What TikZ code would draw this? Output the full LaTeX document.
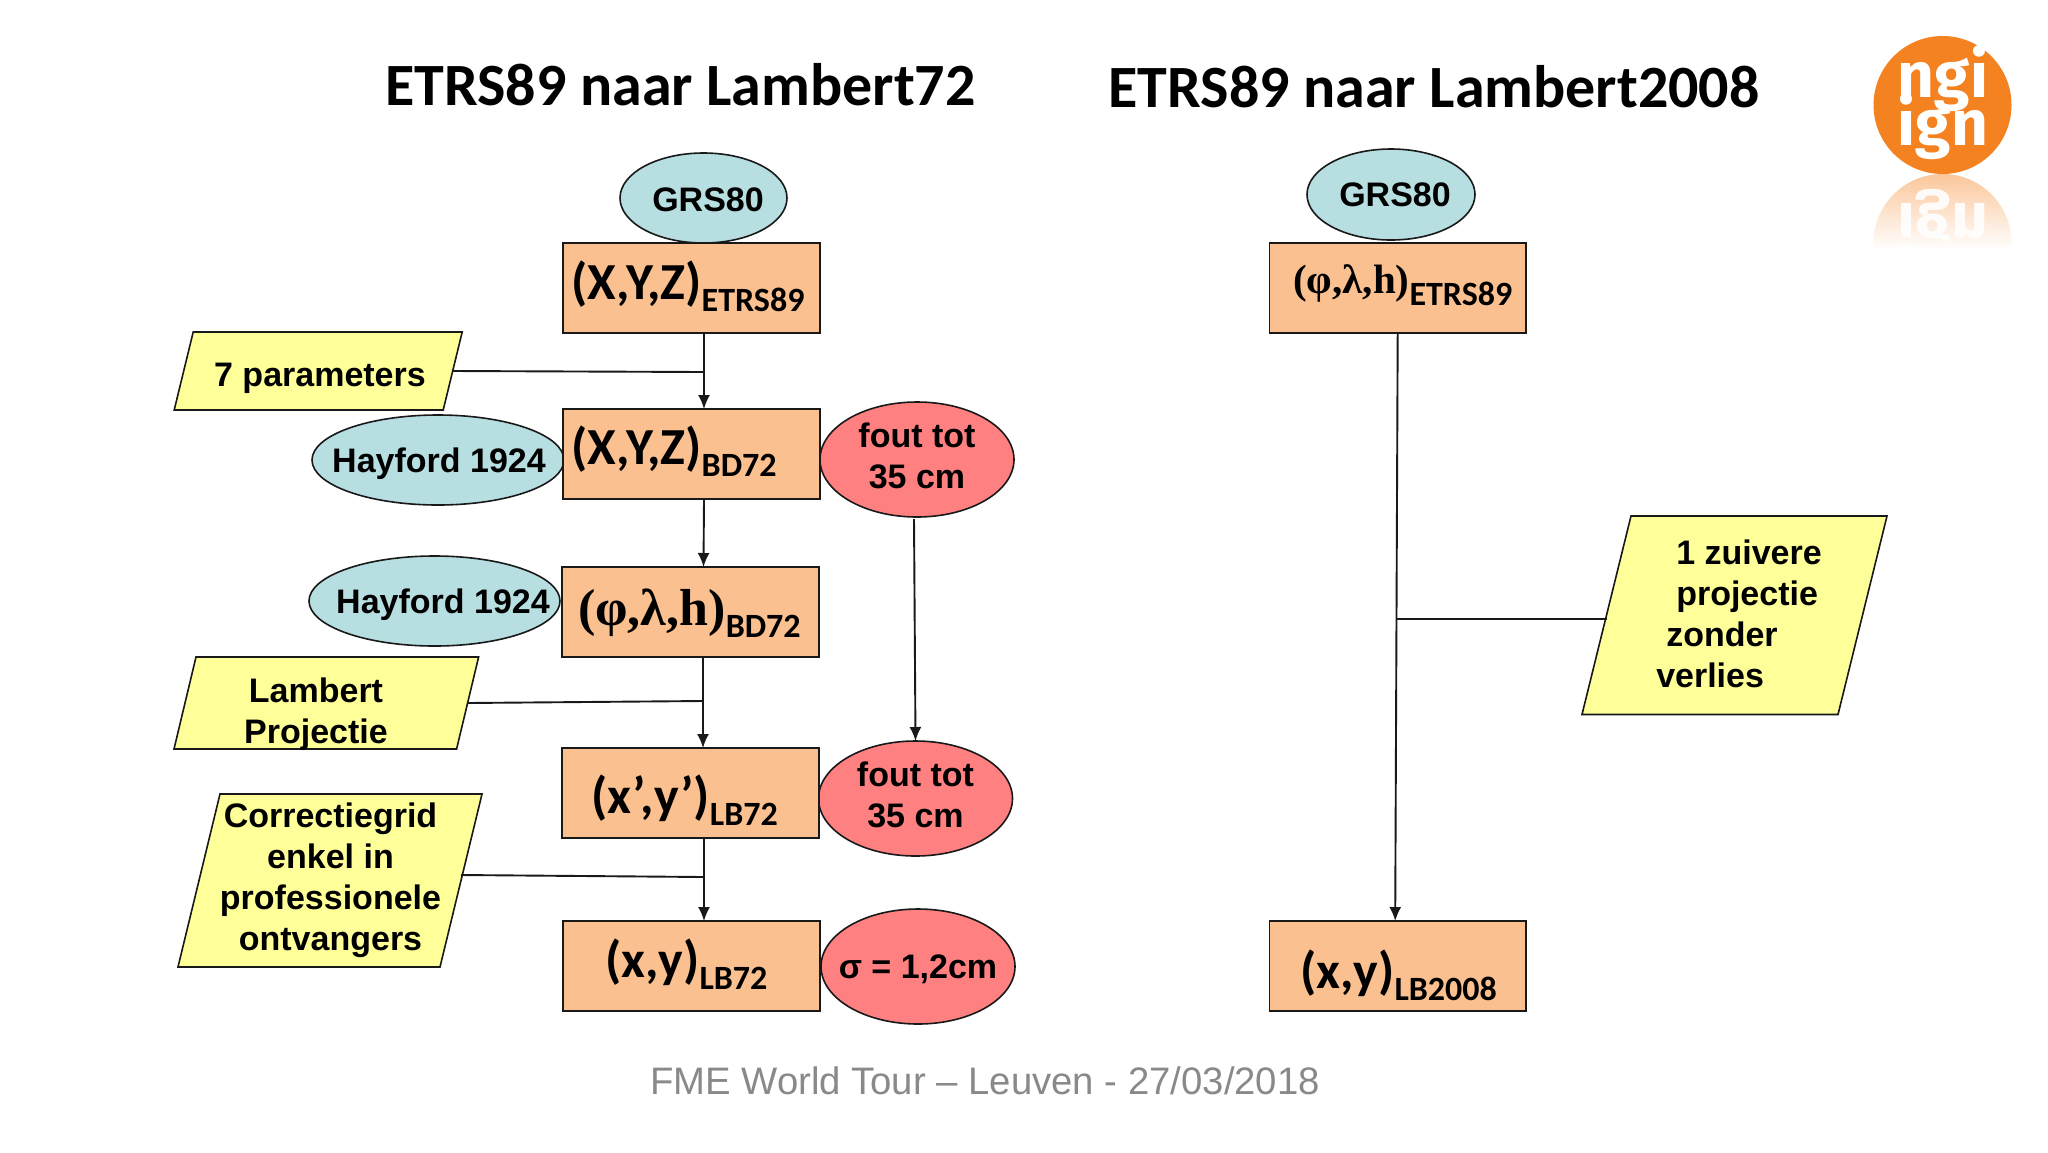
\documentclass[tikz,border=0pt]{standalone}
\usepackage{fontspec}
\setmainfont{Liberation Sans}
\newfontfamily\carl{Carlito}
\newfontfamily\serb{Liberation Serif}
\newfontfamily\logof{Fira Sans}
\usetikzlibrary{shapes.geometric,arrows.meta}
\definecolor{boxc}{RGB}{251,192,143}
\definecolor{bluec}{RGB}{183,222,224}
\definecolor{yelc}{RGB}{255,255,153}
\definecolor{redc}{RGB}{255,128,128}
\definecolor{ngi}{RGB}{245,130,32}
\definecolor{foot}{RGB}{137,137,137}
\definecolor{edge}{RGB}{25,25,25}
\tikzset{
  shp/.style={draw=edge,line width=1.6pt,inner sep=0,outer sep=0},
  coordbox/.style={shp,rectangle,fill=boxc,minimum width=256.5pt,minimum height=90pt},
  blueell/.style={shp,ellipse,fill=bluec,minimum width=#1,minimum height=90pt},
  redell/.style={shp,ellipse,fill=redc,minimum width=194pt,minimum height=115pt},
  para/.style={shp,trapezium,fill=yelc,trapezium left angle=#1,trapezium right angle=180-#1},
  lab/.style={font=\fontsize{34}{41}\selectfont\bfseries,align=center,inner sep=0},
  coordlab/.style={font=\carl\fontsize{52}{52}\selectfont\bfseries,anchor=base west,inner sep=0},
  titl/.style={font=\carl\fontsize{60}{60}\selectfont\bfseries,inner sep=0},
  logot/.style={font=\logof\fontsize{64}{64}\selectfont\bfseries,text=white,inner sep=0,anchor=base},
  conn/.style={draw=black!90,line width=1.9pt},
  arr/.style={conn,-{Latex[length=14pt,width=12pt]}},
}
\newcommand{\carlsub}[2][-12pt]{\raisebox{#1}{\carl\fontsize{34}{34}\selectfont\bfseries #2}}
\newcommand{\parabody}[2]{\phantom{\rule{#1}{#2}}}
\begin{document}
\begin{tikzpicture}[x=1pt,y=-1pt]
\useasboundingbox (0,0) rectangle (2048,1152);
\fill[white] (0,0) rectangle (2048,1152);

% titles
\node[titl] (t1) at (680.5,85) {ETRS89 naar Lambert72};
\node[titl] (t2) at (1434,87) {ETRS89 naar Lambert2008};

% logo
\begin{scope}
\clip (1942.5,243) circle[radius=69];
\shade[top color=ngi!45!white,bottom color=white] (1873,174) rectangle (2012,250);
\end{scope}
\node[logot,yscale=-1,opacity=.9] (logoref) at (1943,203) {ign};
\node[shp,draw=none,circle,fill=ngi,minimum size=138pt] (logo) at (1942.5,105) {};
\node[logot] (logongi) at (1943,97) {ngi};
\node[logot] (logoign) at (1943,145) {ign};

% left column: ellipses
\node[blueell=167pt] (grsa) at (703.5,198) {};
\node[blueell=252pt] (hay1) at (438,460) {};
\node[blueell=251pt] (hay2) at (434.5,601) {};
\node[redell] (fout1) at (917,459.5) {};
\node[redell] (fout2) at (915.5,798.5) {};
\node[redell] (sigma) at (918,966.5) {};

% left column: boxes
\node[coordbox] (a) at (691.5,288) {};
\node[coordbox] (b) at (691.5,454) {};
\node[coordbox] (c) at (690.5,612) {};
\node[coordbox] (d) at (690.5,793) {};
\node[coordbox] (e) at (691.5,966) {};

% parallelograms
\node[para=76.31] (par7) at (318.2,371) {\parabody{250pt}{78pt}};
\node[para=76.55] (parlam) at (326.3,703) {\parabody{260.6pt}{92pt}};
\node[para=76.35] (parcor) at (330,880.5) {\parabody{220pt}{173pt}};

% right column
\node[blueell=168pt,minimum height=91pt] (grsb) at (1391,194.5) {};
\node[coordbox] (r1) at (1397.7,288) {};
\node[coordbox] (r2) at (1397.7,966) {};
\node[para=76.13] (parzui) at (1734.5,615.2) {\parabody{207pt}{198.5pt}};

% junctions
\coordinate (j1) at (704,372);
\coordinate (j2) at (703,701);
\coordinate (j3) at (704,877);
\coordinate (j4) at (1397,619);

% connectors
\draw[arr] ([xshift=12.5pt]a.south) -- ([xshift=12.5pt]b.north);
\draw[conn] (par7.east) -- (j1);
\draw[arr] ([xshift=12.5pt]b.south) -- ([xshift=13pt]c.north);
\draw[arr] ([xshift=12.5pt]c.south) -- ([xshift=12.5pt]d.north);
\draw[conn] (parlam.east) -- (j2);
\draw[arr] ([xshift=13.5pt]d.south) -- ([xshift=12.5pt]e.north);
\draw[conn] ([yshift=5.5pt]parcor.east) -- (j3);
\draw[arr] ([xshift=-3pt,yshift=-2pt]fout1.south) -- (fout2.north);
\draw[arr] (r1.south) -- ([xshift=-2.5pt]r2.north);
\draw[conn] (parzui.west |- j4) -- (j4);

% node texts
\node[lab] (ta) at (708,200) {GRS80};
\node[lab] (tb) at (1395,195) {GRS80};
\node[lab] (t7) at (320,378) {7 parameters};
\node[lab] (th1) at (439,464) {Hayford 1924};
\node[lab] (th2) at (443,605) {Hayford 1924};
\node[lab] (tf1) at (917,456) {fout tot\\35 cm};
\node[lab] (tf2) at (915.5,795) {fout tot\\35 cm};
\node[lab] (tsig) at (918,969) {σ = 1,2cm};
\node[lab] (tlam) at (316,714) {Lambert\\Projectie};
\node[lab] (tcor) at (330.5,880) {Correctiegrid\\enkel in\\professionele\\ontvangers};
\node[lab,align=left] (tzui) at (1739,614) {\hspace*{20pt}1 zuivere\\\hspace*{20pt}projectie\\\hspace*{10pt}zonder\\verlies};

\node[coordlab] (ca) at (571,299) {(X,Y,Z)\carlsub{ETRS89}};
\node[coordlab] (cb) at (571,464) {(X,Y,Z)\carlsub{BD72}};
\node[coordlab,font=\serb\fontsize{52}{52}\selectfont\bfseries] (cc) at (578,625) {(φ,λ,h)\carlsub{BD72}};
\node[coordlab] (cd) at (591,813) {(x’,y’)\carlsub{LB72}};
\node[coordlab] (ce) at (605,977) {(x,y)\carlsub{LB72}};
\node[coordlab,font=\serb\fontsize{41}{41}\selectfont\bfseries] (cr1) at (1293,293) {(φ,λ,h)\carlsub{ETRS89}};
\node[coordlab] (cr2) at (1300,988) {(x,y)\carlsub{LB2008}};

% footer
\node[font=\fontsize{38.3}{38.3}\selectfont,text=foot,inner sep=0] (foot) at (985,1081) {FME World Tour – Leuven - 27/03/2018};
\end{tikzpicture}
\end{document}
